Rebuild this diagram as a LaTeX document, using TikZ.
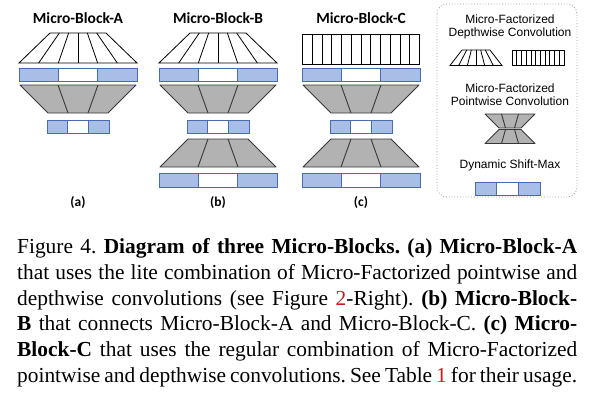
\documentclass[tikz,border=0pt]{standalone}
\usepackage{fontspec}
\setmainfont{Liberation Serif}
\newfontfamily\blockfont{Carlito}
\newfontfamily\legendfont{Liberation Sans}
\definecolor{barblue}{RGB}{168,190,230}
\definecolor{baredge}{RGB}{72,108,178}
\definecolor{pwgray}{RGB}{178,178,178}
\definecolor{pwedge}{RGB}{55,55,55}
\definecolor{refred}{RGB}{200,30,30}
\definecolor{boxgray}{RGB}{150,150,150}
\begin{document}
\begin{tikzpicture}[x=1pt, y=-1pt,
  dwconv/.style={draw=black, line width=0.8pt},
  pwconv/.style={draw=pwedge, line width=0.9pt, fill=pwgray, line join=round},
  shiftbar/.style={draw=baredge, line width=0.9pt, fill=barblue},
  shiftmid/.style={draw=baredge, line width=0.9pt, fill=white},
  blocktitle/.style={font=\blockfont\bfseries\fontsize{15.5}{18}\selectfont, inner sep=0pt},
  sublabel/.style={font=\blockfont\bfseries\fontsize{13.5}{15}\selectfont, inner sep=0pt},
  legendtext/.style={font=\legendfont\fontsize{12}{13.4}\selectfont, align=center, inner sep=0pt}]

\useasboundingbox (0,0) rectangle (600,400);

\foreach \cx/\tag/\lab in {78/A/a, 218/B/b, 361/C/c} {
  \node[blocktitle] (title\tag) at (\cx,18.5) {Micro-Block-\tag};
  \node[sublabel] (label\tag) at (\cx,202.5) {(\lab)};
  \draw[shiftbar] ({\cx-59},68) rectangle ({\cx-19.7},81);
  \draw[shiftmid] ({\cx-19.7},68) rectangle ({\cx+19.7},81);
  \draw[shiftbar] ({\cx+19.7},68) rectangle ({\cx+59},81);
  \draw[pwconv] ({\cx-58},85) -- ({\cx+58},85) -- ({\cx+30},113) -- ({\cx-30},113) -- cycle;
  \draw[pwconv] ({\cx-20},85) -- ({\cx-10},113) ({\cx+20},85) -- ({\cx+10},113);
  \draw[shiftbar] ({\cx-31},120) rectangle ({\cx-10.3},133);
  \draw[shiftmid] ({\cx-10.3},120) rectangle ({\cx+10.3},133);
  \draw[shiftbar] ({\cx+10.3},120) rectangle ({\cx+31},133);
}

\foreach \cx in {78,218} {
  \draw[dwconv] ({\cx-28},33) -- ({\cx+28},33) -- ({\cx+59},63) -- ({\cx-59},63) -- cycle;
  \foreach \i in {1,...,5}
    \draw[dwconv] ({\cx-28+56*\i/6},33) -- ({\cx-59+118*\i/6},63);
}

\draw[dwconv] (302.5,34.5) rectangle (419.5,64);
\foreach \i in {1,...,11}
  \draw[dwconv] ({302.5+117*\i/12},34.5) -- ++(0,29.5);

\foreach \cx in {218,361} {
  \draw[pwconv] ({\cx-30},139) -- ({\cx+30},139) -- ({\cx+58},167) -- ({\cx-58},167) -- cycle;
  \draw[pwconv] ({\cx-10},139) -- ({\cx-20},167) ({\cx+10},139) -- ({\cx+20},167);
  \draw[shiftbar] ({\cx-59},173) rectangle ({\cx-19.7},187);
  \draw[shiftmid] ({\cx-19.7},173) rectangle ({\cx+19.7},187);
  \draw[shiftbar] ({\cx+19.7},173) rectangle ({\cx+59},187);
}

\draw[dotted, draw=boxgray, line width=0.8pt, rounded corners=10pt] (437,4) rectangle (577,197);

\node[legendtext] (dwtext) at (510,26.7) {Micro-Factorized\\Depthwise Convolution};
\draw[dwconv] (462,50) -- (490,50) -- (502,65.5) -- (450,65.5) -- cycle;
\foreach \i in {1,...,5}
  \draw[dwconv] ({462+28*\i/6},50) -- ({450+52*\i/6},65.5);
\draw[dwconv] (512,50) rectangle (564,65);
\foreach \i in {1,...,10}
  \draw[dwconv] ({512+52*\i/11},50) -- ++(0,15);

\node[legendtext] (pwtext) at (510,95) {Micro-Factorized\\Pointwise Convolution};
\draw[pwconv] (485,114) -- (535,114) -- (521,128) -- (499,128) -- cycle;
\draw[pwconv] (501.5,114) -- (505.5,128) (518.5,114) -- (514.5,128);
\draw[pwconv] (499,129.5) -- (521,129.5) -- (535,143.5) -- (485,143.5) -- cycle;
\draw[pwconv] (505.5,129.5) -- (501.5,143.5) (514.5,129.5) -- (518.5,143.5);

\node[legendtext] (dsmtext) at (510,165) {Dynamic Shift-Max};
\draw[shiftbar] (475,182) rectangle (496.7,195);
\draw[shiftmid] (496.7,182) rectangle (518.3,195);
\draw[shiftbar] (518.3,182) rectangle (540,195);

\node[anchor=north west, inner sep=0pt, text width=560pt, align=justify,
  font=\fontsize{21.4}{25.7}\selectfont] (caption) at (17,238.5)
  {\frenchspacing\hyphenpenalty=10000\parfillskip=0pt Figure 4. \textbf{Diagram of three Micro-Blocks.} \textbf{(a) Micro-Block-A}\linebreak
  that uses the lite combination of Micro-Factorized pointwise and\linebreak
  depthwise convolutions (see Figure {\color{refred}2}-Right). \textbf{(b) Micro-Block-}\linebreak
  \textbf{B} that connects Micro-Block-A and Micro-Block-C. \textbf{(c) Micro-}\linebreak
  \textbf{Block-C} that uses the regular combination of Micro-Factorized\linebreak
  pointwise and depthwise convolutions. See Table {\color{refred}1} for their usage.};

\end{tikzpicture}
\end{document}
